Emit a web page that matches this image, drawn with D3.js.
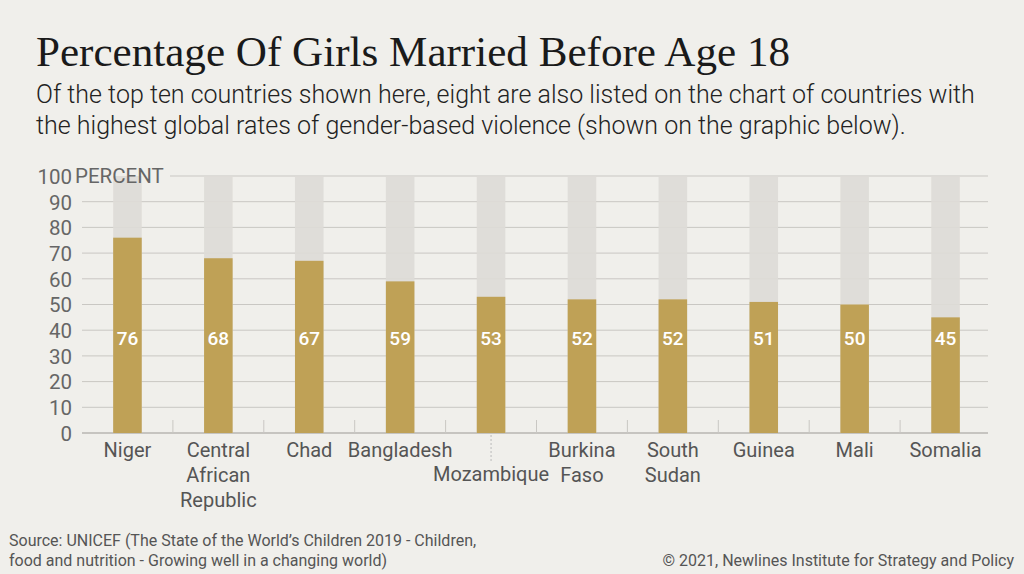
<!DOCTYPE html>
<html>
<head>
<meta charset="utf-8">
<script src="https://cdn.jsdelivr.net/npm/d3@7"></script>
<style>
  html, body { margin: 0; padding: 0; background: #f0efeb; }
  svg { display: block; }
</style>
</head>
<body>
<div id="chart"></div>
<script>
const countries = ["Niger", "Central African Republic", "Chad", "Bangladesh", "Mozambique",
  "Burkina Faso", "South Sudan", "Guinea", "Mali", "Somalia"];
const countryLines = [["Niger"], ["Central", "African", "Republic"], ["Chad"], ["Bangladesh"], ["Mozambique"],
  ["Burkina", "Faso"], ["South", "Sudan"], ["Guinea"], ["Mali"], ["Somalia"]];
const percentMarried = [76, 68, 67, 59, 53, 52, 52, 51, 50, 45];
const yTicks = [0, 10, 20, 30, 40, 50, 60, 70, 80, 90, 100];

const W = 1024, H = 574;
const margin = { top: 176, right: 32, bottom: 141, left: 82 };

const svg = d3.select("#chart").append("svg")
  .attr("width", W).attr("height", H);

svg.append("rect").attr("width", W).attr("height", H).attr("fill", "#f0efeb");

// titles
svg.append("text")
  .attr("x", 36).attr("y", 66)
  .style("font-family", "'Liberation Serif', serif")
  .style("font-size", "42px")
  .attr("fill", "#1a1a1a")
  .attr("textLength", 754)
  .attr("lengthAdjust", "spacingAndGlyphs")
  .text("Percentage Of Girls Married Before Age 18");

const sub = svg.append("text")
  .style("font-family", "Roboto, sans-serif")
  .style("font-weight", 300)
  .style("font-size", "25px")
  .attr("fill", "#222");
sub.append("tspan").attr("x", 36).attr("y", 103)
  .text("Of the top ten countries shown here, eight are also listed on the chart of countries with");
sub.append("tspan").attr("x", 36).attr("y", 134)
  .text("the highest global rates of gender-based violence (shown on the graphic below).");

const x = d3.scaleBand()
  .domain(countries)
  .range([margin.left, W - margin.right - 1])
  .paddingInner(0.686)
  .paddingOuter(0.343);

const y = d3.scaleLinear()
  .domain([0, 100])
  .range([H - margin.bottom, margin.top]);

// gridlines
const grid = svg.append("g");
grid.selectAll("line")
  .data(yTicks)
  .join("line")
  .attr("x1", d => d === 100 ? 170 : margin.left)
  .attr("x2", 988)
  .attr("y1", d => y(d)).attr("y2", d => y(d))
  .attr("stroke", d => d === 0 ? "#b8b6b2" : "#c9c7c3")
  .attr("stroke-width", d => d === 0 ? 1.5 : 1);

// separator ticks between bands
const seps = countries.slice(1);
svg.append("g").selectAll("line")
  .data(seps)
  .join("line")
  .attr("x1", d => x(d) - x.step() * x.paddingInner() / 2)
  .attr("x2", d => x(d) - x.step() * x.paddingInner() / 2)
  .attr("y1", y(0) - 13).attr("y2", y(0))
  .attr("stroke", "#c9c7c3");

// background bars
svg.append("g").selectAll("rect")
  .data(countries)
  .join("rect")
  .attr("x", d => x(d))
  .attr("width", x.bandwidth())
  .attr("y", y(100))
  .attr("height", y(0) - y(100))
  .attr("fill", "#dddbd7")
  .attr("fill-opacity", 0.92);

// value bars
const bars = svg.append("g");
bars.selectAll("rect")
  .data(countries)
  .join("rect")
  .attr("x", d => x(d))
  .attr("width", x.bandwidth())
  .attr("y", (d, i) => y(percentMarried[i]))
  .attr("height", (d, i) => y(0) - y(percentMarried[i]))
  .attr("fill", "#bfa156");

bars.selectAll("text")
  .data(countries)
  .join("text")
  .attr("x", d => x(d) + x.bandwidth() / 2)
  .attr("y", y(37))
  .attr("dy", "0.36em")
  .attr("text-anchor", "middle")
  .style("font-family", "Roboto, sans-serif")
  .style("font-weight", 500)
  .style("font-size", "19px")
  .attr("fill", "#fff")
  .text((d, i) => percentMarried[i]);

// y labels
const yAxis = svg.append("g")
  .attr("transform", `translate(72,0)`)
  .call(d3.axisLeft(y).tickValues(yTicks).tickSize(0).tickPadding(0));
yAxis.select(".domain").remove();
yAxis.selectAll("text")
  .style("font-family", "Roboto, sans-serif")
  .style("font-size", "20.5px")
  .attr("fill", "#666")
  .attr("dy", "0.36em");

svg.append("text")
  .attr("x", 75).attr("y", y(100))
  .attr("dy", "0.36em")
  .style("font-family", "Roboto, sans-serif")
  .style("font-size", "20.5px")
  .attr("fill", "#666")
  .text("PERCENT");

// x labels
const xl = svg.append("g");
countries.forEach((c, i) => {
  const cx = x(c) + x.bandwidth() / 2;
  const lowered = c === "Mozambique";
  const t = xl.append("text")
    .attr("text-anchor", "middle")
    .style("font-family", "Roboto, sans-serif")
    .style("font-size", "20px")
    .attr("fill", "#555");
  countryLines[i].forEach((line, j) => {
    t.append("tspan")
      .attr("x", cx)
      .attr("y", y(0) + 24 + (lowered ? 24 : 0) + j * 25)
      .text(line);
  });
  if (lowered) {
    xl.append("line")
      .attr("x1", cx).attr("x2", cx)
      .attr("y1", y(0) + 2).attr("y2", y(0) + 28)
      .attr("stroke", "#bbb")
      .attr("stroke-dasharray", "2,2");
  }
});

// footer
const src = svg.append("text")
  .style("font-family", "Roboto, sans-serif")
  .style("font-size", "16px")
  .attr("fill", "#555");
src.append("tspan").attr("x", 9).attr("y", 546)
  .text("Source: UNICEF (The State of the World\u2019s Children 2019 - Children,");
src.append("tspan").attr("x", 9).attr("y", 566)
  .text("food and nutrition - Growing well in a changing world)");

svg.append("text")
  .attr("x", 1014).attr("y", 566)
  .attr("text-anchor", "end")
  .style("font-family", "Roboto, sans-serif")
  .style("font-size", "16px")
  .attr("fill", "#555")
  .text("\u00a9 2021, Newlines Institute for Strategy and Policy");
</script>
</body>
</html>
